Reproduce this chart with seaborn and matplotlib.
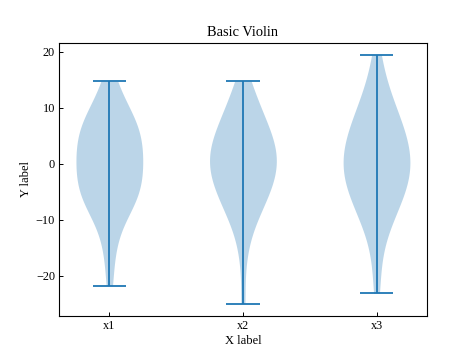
import numpy as np
import pandas as pd
import seaborn as sns
import matplotlib
matplotlib.use("Agg")
import matplotlib.pyplot as plt

# samples behind each violin
group_names = ["x1", "x2", "x3"]
group_pos = [1, 2, 3]

x1_vals = [-21.8, -16.5, -13.5, -11.0,
           -8.7, -8.1, -7.5, -6.9, -6.3, -5.7, -5.1, -4.5, -3.9, -3.3,
           -2.7, -2.1, -1.5, -0.9, -0.3, 0.3, 0.9, 1.5, 2.1, 2.7,
           3.3, 3.9, 4.5, 5.1, 5.7, 6.3, 6.9, 7.5, 8.1, 8.7, 9.3,
           11.0, 12.8, 14.7]
x2_vals = [-25.0, -17.0, -12.7, -10.9, -9.5, -8.5, -7.6, -6.8, -6.1, -5.4,
           -4.8, -4.2, -3.7, -3.1, -2.6, -2.1, -1.6, -1.1, -0.7, -0.2, 0.3,
           0.7, 1.2, 1.7, 2.1, 2.6, 3.1, 3.6, 4.1, 4.7, 5.2,
           5.8, 6.4, 7.1, 7.8, 8.6, 9.5, 10.5, 11.9, 13.2, 14.7]
x3_vals = [-23.2, -18.0, -13.7, -11.8, -10.3, -9.2, -8.2, -7.4, -6.6, -5.9,
           -5.2, -4.6, -4.0, -3.4, -2.9, -2.3, -1.8, -1.3, -0.8, -0.3, 0.3,
           0.8, 1.3, 1.9, 2.4, 3.0, 3.5, 4.1, 4.7, 5.3, 6.0,
           6.6, 7.4, 8.1, 9.0, 9.9, 10.9, 12.2, 13.7, 15.8, 19.4]

groups = [x1_vals, x2_vals, x3_vals]

df = pd.concat(
    [pd.DataFrame({"pos": p, "value": v}) for p, v in zip(group_pos, groups)],
    ignore_index=True,
)

sns.set_style("ticks")
plt.rcParams["font.family"] = ["Liberation Serif", "DejaVu Serif"]
plt.rcParams.update({
    "xtick.direction": "in",
    "ytick.direction": "in",
    "xtick.major.size": 3.0,
    "ytick.major.size": 3.0,
    "xtick.major.width": 0.7,
    "ytick.major.width": 0.7,
    "xtick.major.pad": 2.8,
    "ytick.major.pad": 3.0,
    "xtick.labelsize": 8.8,
    "ytick.labelsize": 8.8,
    "axes.labelsize": 9.0,
    "axes.titlesize": 10.4,
    "axes.titlepad": 5.0,
    "axes.labelpad": 2.5,
    "axes.linewidth": 0.8,
    "axes.edgecolor": "black",
    "xtick.color": "black",
    "ytick.color": "black",
    "axes.labelcolor": "black",
    "text.color": "black",
})

fig = plt.figure(figsize=(4.74, 3.55), dpi=100)
ax = fig.add_subplot(111)

sns.violinplot(data=df, x="pos", y="value", native_scale=True, orient="x",
               width=0.5, density_norm="width", cut=0, inner=None,
               bw_method="scott", color="#1f77b4", saturation=1,
               alpha=0.3, linewidth=0, ax=ax)

# extrema lines like plt.violinplot
mins = [np.min(g) for g in groups]
maxs = [np.max(g) for g in groups]
pos = np.array(group_pos, dtype=float)
ax.vlines(pos, mins, maxs, color="#1f77b4", lw=1.3)
ax.hlines(mins, pos - 0.125, pos + 0.125, color="#1f77b4", lw=1.3)
ax.hlines(maxs, pos - 0.125, pos + 0.125, color="#1f77b4", lw=1.3)

ax.set_xlim(0.625, 3.375)
ax.set_xticks(group_pos)
ax.set_xticklabels(group_names)
ax.set_yticks([-20, -10, 0, 10, 20])
ax.set_xlabel("X label")
ax.set_ylabel("Y label")
ax.set_title("Basic Violin")

fig.savefig("out.png", dpi=100)
